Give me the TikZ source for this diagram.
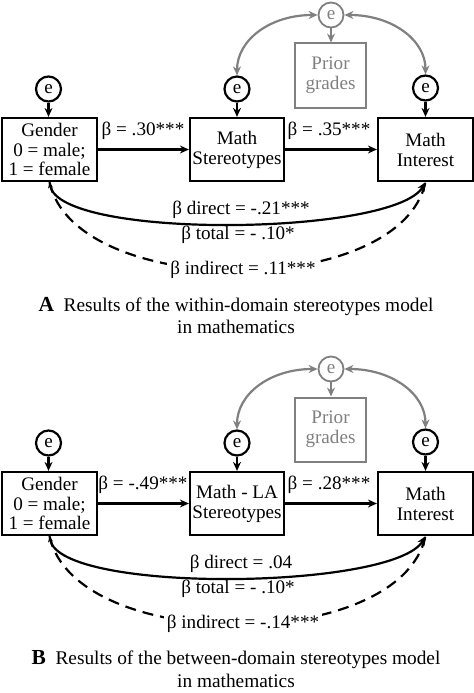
\documentclass[tikz,border=0pt]{standalone}
\usepackage{fontspec}
\setmainfont{Liberation Serif}
\usetikzlibrary{arrows.meta}
\definecolor{gr}{RGB}{128,128,128}
\tikzset{
  txt/.style={font=\fontsize{19.2}{20}\selectfont},
  box/.style={txt, draw, line width=2.2bp, align=center, inner sep=0pt, minimum width=95bp, minimum height=63bp},
  gbox/.style={box, draw=gr, text=gr, line width=2bp, minimum width=71bp, minimum height=64bp},
  err/.style={txt, draw, circle, line width=2.2bp, inner sep=0pt, minimum size=25bp},
  gerr/.style={err, draw=gr, text=gr, line width=1.8bp},
  stk/.tip={Stealth[length=9bp,width=8bp,inset=3bp]},
  arr/.style={-stk, line width=2.2bp},
  garr/.style={stk-stk, draw=gr, line width=2.2bp},
  lab/.style={txt, inner sep=1pt},
  captext/.style={font=\fontsize{19.4}{23}\selectfont, align=center, inner sep=0pt},
}
\newcommand\mypanel[7]{%
  \node[box] (g) at (49.5,149.5) {Gender\\0 = male;\\1 = female};
  \node[box, minimum width=94bp] (ms) at (237,149.5) {#1};
  \node[box] (mi) at (425.5,149.5) {Math\\Interest};
  \node[gbox] (pg) at (330.5,75.5) {Prior\\grades};
  \node[err] (eg) at (48.5,89) {e};
  \node[err] (ems) at (237,89) {e};
  \node[err] (emi) at (425.5,88) {e};
  \node[gerr] (ep) at (331,15) {e};
  \draw[arr] (eg) -- (eg |- g.north);
  \draw[arr] (ems) -- (ems |- ms.north);
  \draw[arr] (emi) -- (emi |- mi.north);
  \draw[arr, draw=gr, line width=1.8bp] (ep) -- (ep |- pg.north);
  \draw[garr] (ep.west) .. controls (270,15) and (237,40) .. (ems.north);
  \draw[garr] (ep.east) .. controls (392,15) and (425.5,40) .. (emi.north);
  \draw[arr] (g.east) -- (ms.west);
  \draw[arr] (ms.east) -- (mi.west);
  \node[lab] (b1) at (143,131) {#2};
  \node[lab] (b2) at (329,131) {#3};
  \draw[line width=2.2bp, dash pattern=on 11bp off 7bp] (g.south) .. controls (75,300) and (400,300) .. (mi.south);
  \draw[line width=2.2bp, {Stealth[length=6bp,width=5bp,inset=2bp]}-stk] (g.south) .. controls (60,240) and (395,236) .. (mi.south);
  \node[lab] (dir) at (241,210) {#4};
  \node[lab] (tot) at (238,235) {β total = - .10*};
  \node[lab, fill=white, inner sep=3pt] (ind) at (243,270) {#5};
  \node[captext] (cp) at (236,315.5) {{\fontsize{21.5}{23}\selectfont\bfseries #6}\enspace Results of the #7 stereotypes model\\in mathematics};
}
\begin{document}
\begin{tikzpicture}[x=1bp,y=-1bp]
\useasboundingbox[fill=white] (0,0) rectangle (474,693);
\begin{scope}[name prefix=A-]
\mypanel{Math\\Stereotypes}{β = .30***}{β = .35***}{β direct = -.21***}{β indirect = .11***}{A}{within-domain}
\end{scope}
\begin{scope}[yshift=-354bp, name prefix=B-]
\mypanel{Math - LA\\Stereotypes}{β = -.49***}{β = .28***}{β direct = .04}{β indirect = -.14***}{B}{between-domain}
\end{scope}
\end{tikzpicture}
\end{document}
